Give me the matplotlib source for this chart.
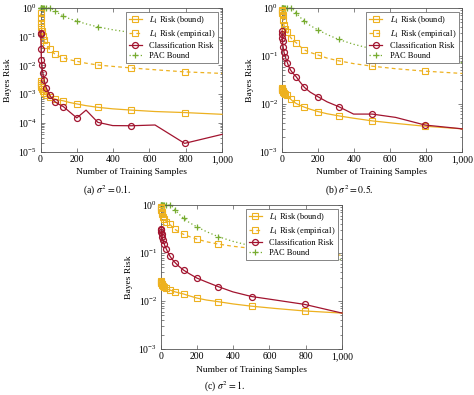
import matplotlib
matplotlib.use("Agg")
import matplotlib.pyplot as plt
from matplotlib.ticker import FixedLocator, FuncFormatter, LogLocator, NullFormatter

plt.rcParams['font.family'] = ['Liberation Serif', 'DejaVu Serif']
plt.rcParams['mathtext.fontset'] = 'stix'

# Number of training samples (shared x values)
n_samples = [1.26, 1.58, 2, 2.51, 3.16, 3.98, 5.01, 6.31, 7.94, 10, 12.6, 15.8, 20, 25.1, 31.6,
             39.8, 50.1, 63.1, 79.4, 100, 126, 158, 200, 251, 316, 398, 501, 631, 794, 1000]

x_ticks = [0, 200, 400, 600, 800, 1000]

# PAC bound (same in every panel)
pac_bound = [1.0, 1.0, 1.0, 1.0, 1.0, 1.0, 1.0, 1.0, 1.0, 1.0, 1.0, 1.0, 1.0, 1.0, 1.0,
             1.0, 1.0, 0.93, 0.8, 0.65, 0.53, 0.43, 0.35, 0.28, 0.22, 0.175, 0.14, 0.11, 0.088, 0.072]

# (a) sigma^2 = 0.1
a_l1_bound = [3.0e-3, 2.7e-3, 2.5e-3, 2.3e-3, 2.1e-3, 1.95e-3, 1.8e-3, 1.65e-3, 1.5e-3, 1.4e-3,
              1.3e-3, 1.2e-3, 1.1e-3, 1.02e-3, 9.5e-4, 8.8e-4, 8.2e-4, 7.4e-4, 6.8e-4, 6.3e-4,
              5.9e-4, 5.2e-4, 4.6e-4, 4.0e-4, 3.5e-4, 3.1e-4, 2.8e-4, 2.5e-4, 2.3e-4, 2.0e-4]
a_l1_emp = [0.65, 0.52, 0.44, 0.37, 0.31, 0.26, 0.22, 0.18, 0.155, 0.13,
            0.11, 0.092, 0.075, 0.062, 0.052, 0.043, 0.036, 0.03, 0.025, 0.021,
            0.0185, 0.016, 0.014, 0.012, 0.0104, 0.0093, 0.0082, 0.0071, 0.006, 0.0053]
a_class = [0.14, 0.13, 0.12, 0.07, 0.037, 0.024, 0.016, 0.013, 0.01, 0.0075,
           0.0056, 0.0042, 0.0031, 0.0023, 0.0017, 0.0013, 9.4e-4, 7.2e-4, 5.5e-4, 4.5e-4,
           3.7e-4, 2.5e-4, 1.5e-4, 2.8e-4, 1.05e-4, 8.1e-5, 8.0e-5, 8.5e-5, 1.95e-5, 4.0e-5]

# (b) sigma^2 = 0.5
b_l1_bound = [0.021, 0.0205, 0.02, 0.0197, 0.0193, 0.019, 0.0187, 0.0183, 0.018, 0.0175,
              0.017, 0.0165, 0.016, 0.0156, 0.0152, 0.0138, 0.0124, 0.0112, 0.0102, 0.0093,
              0.0085, 0.0077, 0.0069, 0.0062, 0.0056, 0.005, 0.0044, 0.0039, 0.0034, 0.003]
b_l1_emp = [0.9, 0.87, 0.85, 0.82, 0.8, 0.75, 0.71, 0.63, 0.56, 0.5,
            0.44, 0.4, 0.37, 0.34, 0.31, 0.27, 0.24, 0.21, 0.19, 0.16,
            0.133, 0.118, 0.105, 0.09, 0.079, 0.069, 0.061, 0.054, 0.048, 0.043]
b_class = [0.33, 0.31, 0.29, 0.26, 0.24, 0.22, 0.2, 0.175, 0.155, 0.137,
           0.12, 0.107, 0.096, 0.083, 0.072, 0.059, 0.05, 0.043, 0.037, 0.029,
           0.022, 0.0175, 0.0141, 0.011, 0.0087, 0.0061, 0.0061, 0.0052, 0.0036, 0.003]

# (c) sigma^2 = 1
c_l1_bound = [0.026, 0.0255, 0.025, 0.0245, 0.024, 0.0235, 0.023, 0.0225, 0.022, 0.0215,
              0.021, 0.0205, 0.02, 0.019, 0.0185, 0.0175, 0.017, 0.0163, 0.0155, 0.0148,
              0.014, 0.0128, 0.0115, 0.0105, 0.0097, 0.0087, 0.0078, 0.007, 0.0062, 0.0056]
c_l1_emp = [0.9, 0.87, 0.85, 0.82, 0.8, 0.76, 0.73, 0.69, 0.65, 0.61,
            0.57, 0.53, 0.5, 0.475, 0.45, 0.42, 0.4, 0.35, 0.31, 0.275,
            0.245, 0.22, 0.195, 0.172, 0.154, 0.138, 0.125, 0.112, 0.1, 0.09]
c_class = [0.31, 0.305, 0.3, 0.29, 0.28, 0.265, 0.25, 0.235, 0.22, 0.2,
           0.185, 0.168, 0.152, 0.135, 0.12, 0.103, 0.087, 0.074, 0.063, 0.053,
           0.044, 0.037, 0.03, 0.025, 0.02, 0.0155, 0.0124, 0.0105, 0.0085, 0.0056]

legend_labels = [r'$L_1$ Risk (bound)', r'$L_1$ Risk (empirical)', 'Classification Risk', 'PAC Bound']
captions = [r'(a) $\sigma^2 = 0.1$.', r'(b) $\sigma^2 = 0.5$.', r'(c) $\sigma^2 = 1$.']

YELLOW = '#EDB120'
RED = '#A2142F'
GREEN = '#77AC30'
FRAME = '#555555'

W, H = 474, 395
fig = plt.figure(figsize=(W / 100, H / 100), dpi=100)


def px_axes(left, top, right, bottom):
    return fig.add_axes([left / W, 1 - bottom / H, (right - left) / W, (bottom - top) / H])


def panel(ax, bound, emp, cls, ymin):
    me = slice(0, 29, 2)
    common = dict(clip_on=False, lw=0.9, markevery=me)
    ax.plot(n_samples, bound, color=YELLOW, marker='s', ms=4.0, mfc='none', mew=0.8,
            label=legend_labels[0], zorder=3, **common)
    ax.plot(n_samples, emp, color=YELLOW, marker='s', ms=4.0, mfc='none', mew=0.8,
            ls=(0, (3, 2.5)), label=legend_labels[1], zorder=3, **common)
    ax.plot(n_samples, cls, color=RED, marker='o', ms=4.3, mfc='none', mew=0.9,
            label=legend_labels[2], zorder=4, **common)
    ax.plot(n_samples, pac_bound, color=GREEN, marker='+', ms=4.3, mew=0.9,
            ls=(0, (1, 2)), label=legend_labels[3], zorder=2, **common)
    ax.set_yscale('log')
    ax.set_ylim(ymin, 1)
    ax.set_xlim(0, 1000)
    ax.xaxis.set_major_locator(FixedLocator(x_ticks))
    ax.xaxis.set_major_formatter(FuncFormatter(lambda v, p: f'{int(v):,}'))
    ax.yaxis.set_major_locator(LogLocator(base=10, numticks=10))
    ax.yaxis.set_minor_locator(LogLocator(base=10, subs=range(2, 10), numticks=20))
    ax.yaxis.set_minor_formatter(NullFormatter())
    ax.tick_params(which='both', direction='in', top=True, right=True, color=FRAME,
                   labelsize=7, width=0.5)
    ax.tick_params(which='major', length=3, pad=2.5)
    ax.tick_params(which='minor', length=1.8)
    for s in ax.spines.values():
        s.set_color(FRAME)
        s.set_linewidth(0.6)
    ax.set_xlabel('Number of Training Samples', fontsize=6.8, labelpad=3)
    ax.set_ylabel('Bayes Risk', fontsize=6.8, labelpad=4)
    leg = ax.legend(loc='upper right', fontsize=6, frameon=True, fancybox=False,
                    edgecolor=FRAME, framealpha=1, borderpad=0.3, labelspacing=0.25,
                    handlelength=1.6, handletextpad=0.9, borderaxespad=0.45)
    leg.get_frame().set_linewidth(0.5)
    leg.set_zorder(10)


ax_a = px_axes(40.5, 8, 222, 151.7)
panel(ax_a, a_l1_bound, a_l1_emp, a_class, 1e-5)
ax_b = px_axes(281.7, 8, 462.3, 151.7)
panel(ax_b, b_l1_bound, b_l1_emp, b_class, 1e-3)
ax_c = px_axes(160.7, 205, 342, 349)
panel(ax_c, c_l1_bound, c_l1_emp, c_class, 1e-3)

for (cx, cy), text in zip([(107, 190.7), (349, 190.7), (224, 387)], captions):
    fig.text(cx / W, 1 - cy / H, text, ha='center', va='center', fontsize=7)

fig.savefig('out.png', dpi=100)
